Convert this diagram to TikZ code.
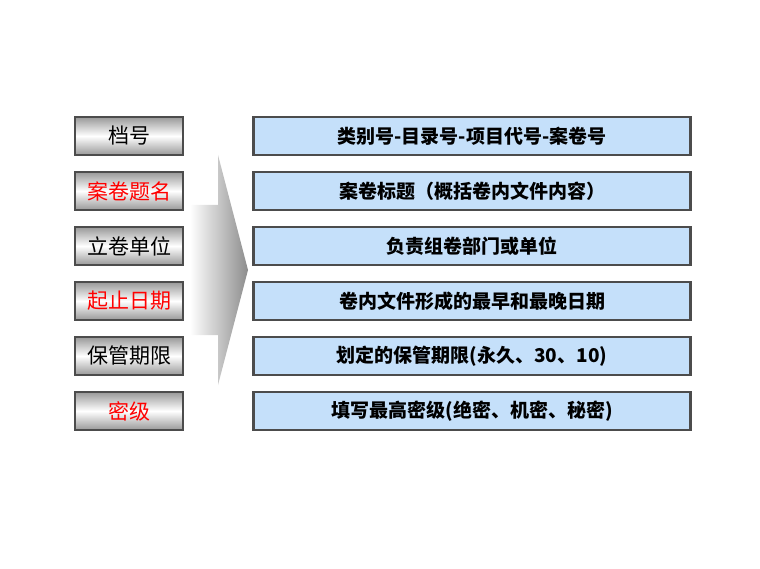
\documentclass[tikz,border=0pt]{standalone}
\usepackage{fontspec}
\newfontfamily\cjk{Noto Sans CJK SC}
\usetikzlibrary{positioning}
\definecolor{valblue}{RGB}{197,224,250}
\begin{document}
\begin{tikzpicture}[x=1pt,y=-1pt]
\tikzstyle{keybox}=[draw=black!70,line width=2.5pt,top color=black!40,bottom color=black!40,middle color=white,minimum width=108pt,minimum height=38pt,font=\cjk\fontsize{21}{21}\selectfont]
\tikzstyle{valbox}=[draw=black!70,line width=2.5pt,fill=valblue,minimum width=437pt,minimum height=38pt,font=\cjk\bfseries\fontsize{19}{19}\selectfont]

\useasboundingbox (0,0) rectangle (760,569);

% arrow
\shade[left color=white,right color=black!45] (190,205) -- (218,205) -- (218,155) -- (248,270) -- (218,385) -- (218,335) -- (190,335) -- cycle;

\node[keybox] (k1) at (129,136) {档号};
\node[keybox,text=red] (k2) at (129,191) {案卷题名};
\node[keybox] (k3) at (129,246) {立卷单位};
\node[keybox,text=red] (k4) at (129,301) {起止日期};
\node[keybox] (k5) at (129,356) {保管期限};
\node[keybox,text=red] (k6) at (129,411) {密级};

\node[valbox] (v1) at (472,136) {类别号-目录号-项目代号-案卷号};
\node[valbox] (v2) at (472,191) {案卷标题（概括卷内文件内容）};
\node[valbox] (v3) at (472,246) {负责组卷部门或单位};
\node[valbox] (v4) at (472,301) {卷内文件形成的最早和最晚日期};
\node[valbox] (v5) at (472,356) {划定的保管期限(永久、30、10)};
\node[valbox] (v6) at (472,411) {填写最高密级(绝密、机密、秘密)};

\end{tikzpicture}
\end{document}
